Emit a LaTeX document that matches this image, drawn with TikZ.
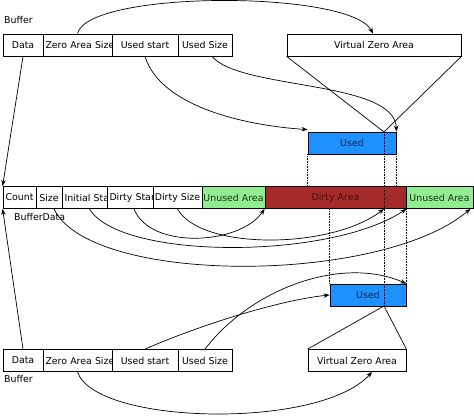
\documentclass[tikz,border=0pt]{standalone}
\usepackage{fontspec}
\setmainfont{DejaVu Sans}
\usetikzlibrary{arrows.meta}

\definecolor{usedblue}{RGB}{30,144,255}
\definecolor{dirtyred}{RGB}{165,42,42}
\definecolor{freegreen}{RGB}{144,238,144}

\begin{document}
\begin{tikzpicture}[
    x=1pt, y=-1pt,
    font=\fontsize{9.4}{11}\selectfont,
    cell/.style={draw, fill=white, line width=0.8pt, minimum height=22pt, inner sep=0pt, align=center},
    cut/.style={cell, text width=#1, align=left, inner xsep=2.5pt},
    used/.style={cell, fill=usedblue, text=usedblue!30!black},
    dirty/.style={cell, fill=dirtyred, text=dirtyred!40!black},
    free/.style={cell, fill=freegreen, text=freegreen!20!black},
    tag/.style={anchor=west, inner sep=0pt},
    link/.style={-{Stealth[length=6pt,width=4.5pt]}, line width=0.7pt},
    guide/.style={densely dotted, line width=0.6pt},
]
    \useasboundingbox (0,0) rectangle (474,418);

    % Top buffer
    \node[tag] (lblTop) at (4,20) {Buffer};
    \node[cell, minimum width=40pt] (bData) at (23,45) {Data};
    \node[cut=64pt] (bZero) at (77.5,45) {\mbox{Zero Area Size}};
    \node[cell, minimum width=66pt] (bStart) at (145,45) {Used start};
    \node[cell, minimum width=54pt] (bSize) at (205,45) {Used Size};
    \node[cell, minimum width=174pt] (vTop) at (374,45) {Virtual Zero Area};
    \node[used, minimum width=88pt] (uTop) at (352,143) {Used};

    % Buffer data row
    \node[cell, minimum width=33pt] (dCount) at (19.5,197.5) {Count};
    \node[cell, minimum width=26pt] (dSize) at (49,197.5) {Size};
    \node[cut=40pt] (dInit) at (84.5,197.5) {\mbox{Initial Start}};
    \node[cut=41pt] (dDStart) at (130,197.5) {\mbox{Dirty Start}};
    \node[cell, minimum width=49pt] (dDSize) at (177.5,197.5) {Dirty Size};
    \node[free, minimum width=63pt] (dFreeA) at (233.5,197.5) {Unused Area};
    \node[dirty, minimum width=141pt] (dDirty) at (335.5,197.5) {Dirty Area};
    \node[free, minimum width=67pt] (dFreeB) at (439.5,197.5) {Unused Area};
    \node[tag] (lblData) at (14,217) {BufferData};

    % Bottom buffer
    \node[used, minimum width=76pt] (uBot) at (368,295) {Used};
    \node[cell, minimum width=98pt] (vBot) at (357,360.5) {Virtual Zero Area};
    \node[cell, minimum width=40pt] (bDataB) at (23,360.5) {Data};
    \node[cut=64pt] (bZeroB) at (77.5,360.5) {\mbox{Zero Area Size}};
    \node[cell, minimum width=66pt] (bStartB) at (145,360.5) {Used start};
    \node[cell, minimum width=54pt] (bSizeB) at (205,360.5) {Used Size};
    \node[tag] (lblBot) at (4,379) {Buffer};

    \coordinate (pinTop) at (384,132);
    \coordinate (pinBot) at (384,306);

    % Virtual zero area funnels
    \draw[line width=0.7pt] (vTop.south west) -- (pinTop) -- (vTop.south east);
    \draw[line width=0.7pt] (vBot.north west) -- (pinBot) -- (vBot.north east);

    % Dotted guides
    \draw[guide] (pinTop) -- (pinBot);
    \draw[guide] (uTop.south west) -- (uTop.south west |- dDirty.north);
    \draw[guide] (uTop.south east) -- (uTop.south east |- dDirty.north);
    \draw[guide] (uBot.north west) -- (uBot.north west |- dDirty.south);
    \draw[guide] (uBot.north east) -- (uBot.north east |- dDirty.south);

    % Data pointers
    \draw[link] (bData.south) -- (dCount.north west);
    \draw[link] (bDataB.north) -- (dCount.south west);

    % Top links
    \draw[link] (bZero.north) .. controls (88,-10) and (350,-10) .. ([xshift=-1pt]vTop.north);
    \draw[link] (bStart.south) .. controls (160,105) and (240,125) .. ([yshift=2pt]uTop.north west);
    \draw[link] ([xshift=7pt]bSize.south) .. controls (240,90) and (395,80) .. (uTop.north east);

    % Row links
    \draw[link] ([xshift=4pt]dDStart.south) .. controls (150,250) and (240,245) .. (dDirty.south west);
    \draw[link] (dDSize.south) .. controls (200,250) and (330,250) .. (pinTop |- dDirty.south);
    \draw[link] ([xshift=5pt]dInit.south) .. controls (120,260) and (330,260) .. (dDirty.south east);
    \draw[link] ([xshift=5pt]dSize.south) .. controls (90,285) and (380,285) .. ([xshift=-3pt]dFreeB.south east);

    % Bottom links
    \draw[link] (bStartB.north) .. controls (200,325) and (280,300) .. (uBot.west);
    \draw[link] (bSizeB.north) .. controls (250,290) and (340,255) .. (uBot.north east);
    \draw[link] (bZeroB.south) .. controls (95,425) and (320,430) .. ([xshift=15pt]vBot.south);
\end{tikzpicture}
\end{document}
